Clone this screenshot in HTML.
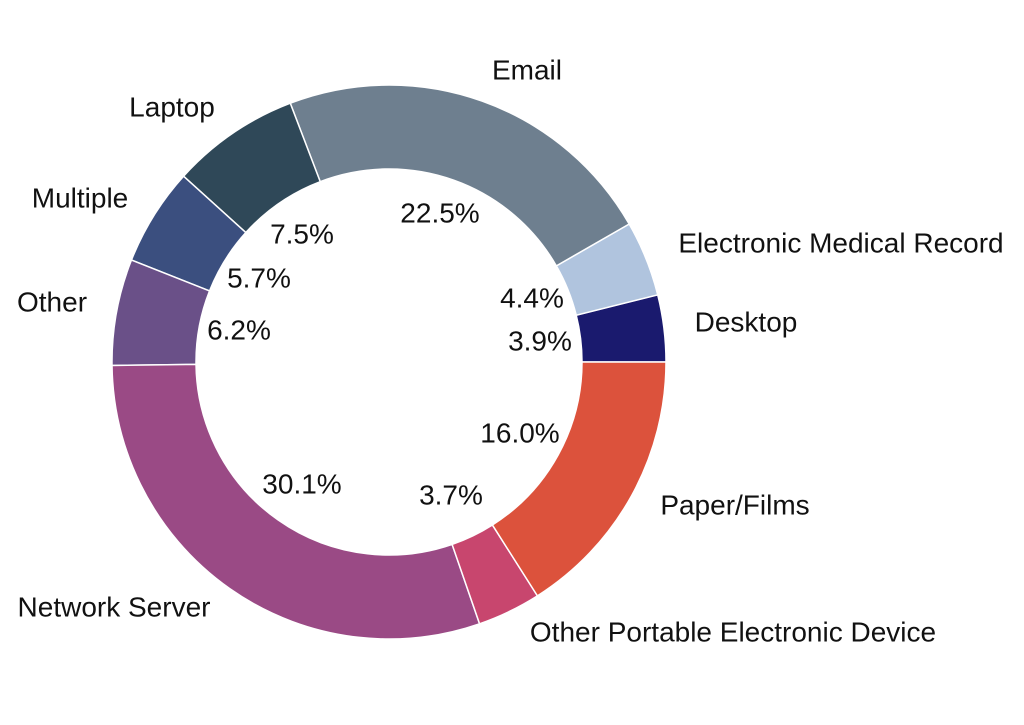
<!DOCTYPE html>
<html><head><meta charset="utf-8"><style>
html,body{margin:0;padding:0;background:#fff;}
svg text{font-family:"Liberation Sans",sans-serif;font-size:28px;fill:#111;}
</style></head><body>
<svg id="s" width="1024" height="720" xmlns="http://www.w3.org/2000/svg">
<g id="w"></g>
<g text-anchor="middle" dominant-baseline="central">
<text x="527" y="70">Email</text>
<text x="172" y="107">Laptop</text>
<text x="80" y="198">Multiple</text>
<text x="52" y="302">Other</text>
<text x="114" y="607">Network Server</text>
<text x="733" y="632">Other Portable Electronic Device</text>
<text x="735" y="505">Paper/Films</text>
<text x="746" y="322">Desktop</text>
<text x="841" y="243">Electronic Medical Record</text>
<text x="440" y="213">22.5%</text>
<text x="302" y="234">7.5%</text>
<text x="259" y="278">5.7%</text>
<text x="239" y="330">6.2%</text>
<text x="302" y="484">30.1%</text>
<text x="451" y="495">3.7%</text>
<text x="520" y="433">16.0%</text>
<text x="532" y="298">4.4%</text>
<text x="540" y="341">3.9%</text>
</g>
</svg>
<script>
var cx=389,cy=362,R=277,r=193;
var d=[[3.9,"#1a1a6e"],[4.4,"#b0c4de"],[22.5,"#6e7f8f"],[7.5,"#2f4858"],[5.7,"#3b4f7f"],[6.2,"#6a5088"],[30.1,"#9a4a85"],[3.7,"#c8466e"],[16.0,"#dc523c"]];
var a=0,h="";
function p(rad,t){return (cx+rad*Math.cos(t)).toFixed(2)+","+(cy-rad*Math.sin(t)).toFixed(2);}
d.forEach(function(e){
 var b=a+e[0]/100*2*Math.PI;var lg=(b-a)>Math.PI?1:0;
 h+='<path d="M'+p(R,a)+' A'+R+','+R+' 0 '+lg+' 0 '+p(R,b)+' L'+p(r,b)+' A'+r+','+r+' 0 '+lg+' 1 '+p(r,a)+' Z" fill="'+e[1]+'" stroke="#fff" stroke-width="1.5"/>';
 a=b;});
document.getElementById("w").innerHTML=h;
</script>
</body></html>
